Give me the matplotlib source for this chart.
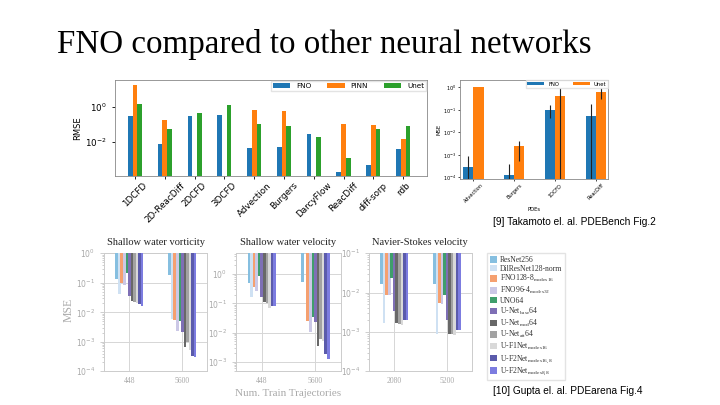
import numpy as np
import matplotlib
matplotlib.use("Agg")
import matplotlib.pyplot as plt
from matplotlib.patches import Patch

nan = np.nan

# ---------------- data: PDEBench (top left) ----------------
cats1 = ['1DCFD', '2D-ReacDiff', '2DCFD', '3DCFD', 'Advection', 'Burgers',
         'DarcyFlow', 'ReacDiff', 'diff-sorp', 'rdb']
fno1 = [0.29, 0.007, 0.28, 0.32, 0.0044, 0.0048, 0.027, 1.9e-4, 4.9e-4, 0.0038]
pinn1 = [17, 0.17, nan, nan, 0.67, 0.54, nan, 0.1, 0.09, 0.015]
unet1 = [1.4, 0.055, 0.42, 1.2, 0.1, 0.076, 0.018, 0.0011, 0.051, 0.076]

# ---------------- data: PDEBench (top right) ----------------
cats2 = ['Advection', 'Burgers', '1DCFD', 'ReacDiff']
fno2 = [2.8e-4, 1.3e-4, 0.098, 0.053]
fno2_lo = [1e-7, 1e-7, 0.042, 1e-7]
fno2_hi = [8.7e-4, 3.9e-4, 0.16, 0.18]
unet2 = [1.0, 2.5e-3, 0.41, 0.62]
unet2_lo = [1.0, 5.5e-4, 1e-7, 0.29]
unet2_hi = [1.0, 4.2e-3, 0.9, 0.9]

# ---------------- data: PDEArena (bottom) ----------------
models = ['ResNet256', 'DilResNet128-norm', 'FNO128-8$_{\\mathrm{modes16}}$',
          'FNO96-4$_{\\mathrm{modes32}}$', 'UNO64', 'U-Net$_{\\mathrm{base}}$64',
          'U-Net$_{\\mathrm{mod}}$64', 'U-Net$_{\\mathrm{att}}$64',
          'U-F1Net$_{\\mathrm{modes16}}$', 'U-F2Net$_{\\mathrm{modes16,8}}$',
          'U-F2Net$_{\\mathrm{modes8,8}}$']
model_colors = ['#86bfe0', '#cfe1f3', '#f5a070', '#cbc8e6', '#3f9e6c', '#7e6fb5',
                '#686868', '#a2a2a2', '#d9d9d9', '#5b5bab', '#7c7ce0']

sw_vort_traj = ['448', '5600']
sw_vort_448 = [0.13, 0.041, 0.10, 0.081, 0.21, 0.035, 0.024, 0.022, 0.021, 0.019, 0.016]
sw_vort_5600 = [0.18, 0.006, 0.0053, 0.0024, 0.005, 0.0021, 6.5e-4, 9.6e-4, 5.3e-4, 3.3e-4, 3.0e-4]

sw_vel_traj = ['448', '5600']
sw_vel_448 = [0.48, 0.17, 0.37, 0.27, 0.85, 0.17, 0.11, 0.10, 0.072, 0.08, 0.08]
sw_vel_5600 = [0.52, nan, 0.025, 0.0105, 0.035, 0.023, 0.0034, 0.0063, 0.005, 0.0019, 0.0013]

ns_traj = ['2080', '5200']
ns_2080 = [0.017, 0.0017, 0.0089, 0.0085, 0.023, 0.0035, 0.0017, 0.0016, 0.0015, 0.002, 0.002]
ns_5200 = [0.017, 9e-4, 0.0053, 0.005, 0.0087, 0.002, 9e-4, 8.8e-4, 8.5e-4, 0.0011, 0.00115]

plt.rcParams['mathtext.fontset'] = 'custom'
plt.rcParams['mathtext.rm'] = 'Liberation Serif'
plt.rcParams['mathtext.it'] = 'Liberation Serif:italic'

fig = plt.figure(figsize=(7.2, 4.05), dpi=100)
fig.patch.set_facecolor('white')

fig.text(57 / 720, 1 - 45 / 405, 'FNO compared to other neural networks',
         family='Liberation Serif', fontsize=23.8, va='center', ha='left')

# ---------------- top-left chart ----------------
ax1 = fig.add_axes([115 / 720, 1 - 176 / 405, 312 / 720, 96 / 405])
ax1.set_yscale('log')
x1 = np.arange(len(cats1))
w1 = 0.158
ax1.bar(x1 - w1, fno1, w1, color='#1f77b4', label='FNO')
ax1.bar(x1, pinn1, w1, color='#ff7f0e', label='PINN')
ax1.bar(x1 + w1, unet1, w1, color='#2ca02c', label='Unet')
ax1.set_xlim(-0.67, 9.8)
ax1.set_ylim(1.1e-4, 33)
ax1.set_xticks(x1)
ax1.set_xticklabels(cats1, rotation=45, ha='center', fontsize=6.3)
ax1.set_yticks([1e0, 1e-2])
ax1.yaxis.set_minor_locator(matplotlib.ticker.NullLocator())
ax1.tick_params(axis='y', labelsize=6.3, length=2.5, width=0.6)
ax1.tick_params(axis='x', length=2.5, width=0.6, pad=1)
ax1.set_ylabel('RMSE', fontsize=6, labelpad=2)
for s in ax1.spines.values():
    s.set_color('#888888')
    s.set_linewidth(0.6)
ax1.legend(loc='upper right', ncol=3, fontsize=5.2, frameon=True, borderaxespad=0.1,
           handlelength=2.4, handleheight=0.6, columnspacing=2.2, borderpad=0.3,
           fancybox=False, edgecolor='#dddddd')

# ---------------- top-right chart ----------------
ax2 = fig.add_axes([460 / 720, 1 - 179.3 / 405, 148 / 720, 99.3 / 405])
ax2.set_yscale('log')
x2 = np.arange(len(cats2))
w2 = 0.25
f2 = np.array(fno2)
u2 = np.array(unet2)
ax2.bar(x2 - w2 / 2, f2, w2, color='#1f77b4', label='FNO',
        yerr=[f2 - np.array(fno2_lo), np.array(fno2_hi) - f2], ecolor='#222222',
        error_kw=dict(lw=0.8))
ax2.bar(x2 + w2 / 2, u2, w2, color='#ff7f0e', label='Unet',
        yerr=[u2 - np.array(unet2_lo), np.array(unet2_hi) - u2], ecolor='#222222',
        error_kw=dict(lw=0.8))
ax2.set_xlim(-0.33, 3.3)
ax2.set_ylim(8.2e-5, 2.1)
ax2.set_xticks(x2)
ax2.set_xticklabels(cats2, rotation=45, ha='center', fontsize=3.6)
ax2.set_yticks([1e0, 1e-1, 1e-2, 1e-3, 1e-4])
ax2.yaxis.set_minor_locator(matplotlib.ticker.NullLocator())
ax2.tick_params(axis='both', labelsize=3.6, length=1.5, width=0.5, pad=1)
ax2.set_xlabel('PDEs', fontsize=3.8, labelpad=2)
ax2.set_ylabel('MSE', fontsize=3.8, labelpad=1)
for s in ax2.spines.values():
    s.set_color('#888888')
    s.set_linewidth(0.6)
ax2.legend(loc='upper right', ncol=2, fontsize=3.8, frameon=True, borderaxespad=0.05,
           handlelength=3.2, handleheight=0.6, columnspacing=2.5, borderpad=0.25,
           fancybox=False, edgecolor='#dddddd')

fig.text(493 / 720, 1 - 222 / 405, '[9] Takamoto el. al. PDEBench Fig.2',
         family='Liberation Sans', fontsize=7.3, va='center', ha='left')

# ---------------- bottom PDEArena panels ----------------
panels = [
    ('Shallow water vorticity', sw_vort_traj, sw_vort_448, sw_vort_5600, (1e-4, 1.0), 104, 103.3),
    ('Shallow water velocity', sw_vel_traj, sw_vel_448, sw_vel_5600, (4.8e-4, 5.1), 236, 104.7),
    ('Navier-Stokes velocity', ns_traj, ns_2080, ns_5200, (1e-4, 1e-1), 369, 102.7),
]
bw = 0.048
for title, traj, g1, g2, ylim, px, pw in panels:
    ax = fig.add_axes([px / 720, 1 - 371.3 / 405, pw / 720, 118 / 405])
    ax.set_yscale('log')
    top = ylim[1]
    for gi, vals in enumerate([g1, g2]):
        for mi, v in enumerate(vals):
            if np.isnan(v):
                continue
            xpos = gi + (mi - 5) * bw
            ax.bar(xpos, top - v, bw * 1.05, bottom=v, color=model_colors[mi],
                   zorder=3, linewidth=0)
    ax.set_ylim(*ylim)
    ax.set_xlim(-0.48, 1.47)
    ax.set_xticks([0, 1])
    ax.set_xticklabels(traj, family='Liberation Serif')
    ax.grid(True, which='major', color='#d6d6d6', linewidth=0.7, zorder=0)
    ax.tick_params(axis='both', which='both', colors='#bbbbbb', labelcolor='#a8a8a8',
                   labelsize=5.5, width=0.5)
    ax.tick_params(axis='y', which='major', length=3)
    ax.tick_params(axis='y', which='minor', length=1.5)
    ax.tick_params(axis='x', length=0, pad=4)
    for s in ax.spines.values():
        s.set_color('#cccccc')
        s.set_linewidth(0.7)
    ax.set_title(title, family='Liberation Serif', fontsize=7.5, pad=6, color='#222222')

fig.text(69 / 720, 1 - 310 / 405, 'MSE', family='Liberation Serif', fontsize=8.5,
         color='#aaaaaa', rotation=90, va='center', ha='center')
fig.text(288 / 720, 1 - 393 / 405, 'Num. Train Trajectories', family='Liberation Serif',
         fontsize=8, color='#aaaaaa', va='center', ha='center')

handles = [Patch(facecolor=c, edgecolor='none') for c in model_colors]
leg = fig.legend(handles, models, loc='upper left', bbox_to_anchor=(487 / 720, 1 - 253 / 405),
                 prop={'family': 'Liberation Serif', 'size': 5.5}, frameon=True,
                 fancybox=False, edgecolor='#dddddd', handlelength=0.9, handleheight=0.9,
                 handletextpad=0.4, labelspacing=0.08, borderpad=0.4, borderaxespad=0)
for t in leg.get_texts():
    t.set_color('#333333')

fig.text(493 / 720, 1 - 391 / 405, '[10] Gupta el. al. PDEarena Fig.4',
         family='Liberation Sans', fontsize=7.3, va='center', ha='left')

fig.savefig('out.png', dpi=100)
